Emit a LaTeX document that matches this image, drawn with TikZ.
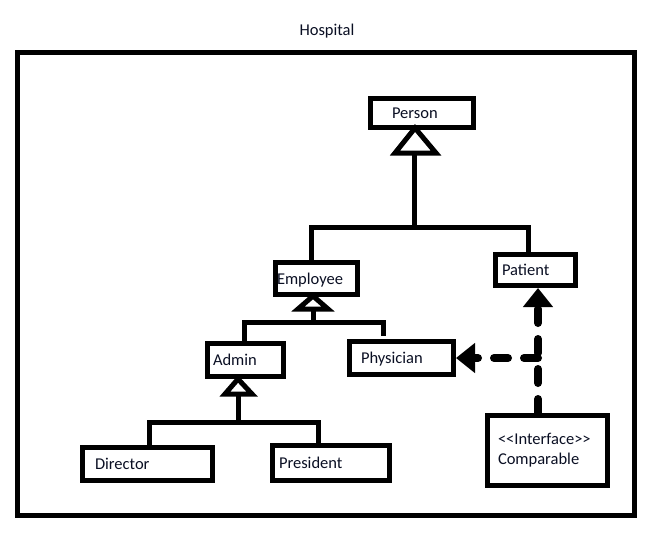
\documentclass[tikz,border=0pt]{standalone}
\usepackage{fontspec}
\setmainfont{Carlito}
\usetikzlibrary{arrows.meta,calc}
\definecolor{ink}{RGB}{10,15,35}
\begin{document}
\begin{tikzpicture}[x=1pt,y=-1pt,
  txt/.style={font=\fontsize{16.5}{20}\selectfont, text=ink},
  box/.style={txt, draw, line width=5pt, inner ysep=0pt, align=left},
  one/.style={text height=13pt, text depth=2pt},
  conn/.style={line width=5pt, line join=miter},
  gen/.style={line width=5pt, fill=white, line join=miter},
  dep/.style={line width=8pt, line cap=round, dash pattern=on 14pt off 16pt,
    -{Triangle[length=19pt,width=29pt]}}]
\useasboundingbox (0,0) rectangle (662,533);

% frame and title
\node[draw, line width=5pt, minimum width=617pt, minimum height=463pt, inner sep=0pt] (frame) at (326,284) {};
\node[txt] (title) at (327,31) {Hospital};

% classes
\node[box, one, inner xsep=21.5pt, text width=60pt, minimum height=29pt] (person) at (422,113) {Person};
\node[box, one, inner xsep=1.5pt, text width=79pt, minimum height=32pt] (emp) at (316.5,278.5) {Employee};
\node[box, one, inner xsep=6.5pt, text width=67pt, minimum height=31pt] (pat) at (535.5,270) {Patient};
\node[box, one, inner xsep=5.5pt, text width=65pt, minimum height=33pt] (admin) at (245.5,360) {Admin};
\node[box, one, inner xsep=11.5pt, text width=81pt, minimum height=33pt] (phys) at (401.5,358) {Physician};
\node[box, one, inner xsep=12.5pt, text width=105pt, minimum height=33pt] (dir) at (147.5,464) {Director};
\node[box, one, inner xsep=6.5pt, text width=104pt, minimum height=35pt] (pres) at (331,463) {President};
\node[box, inner xsep=10.5pt, text width=99pt, minimum height=70pt] (comp) at (547.5,450.5) {{<}{<}Interface{>}{>}\\Comparable};

% Person generalization
\coordinate (j1) at (414,227);
\draw[conn] (j1) -- ([xshift=-8pt,yshift=-21pt]person.south);
\draw[gen] ([xshift=-7pt,yshift=2pt]person.south) -- ++(-20,25) -- ++(41,0) -- cycle;
\draw[conn] ([xshift=-5.5pt]emp.north) |- (j1) -| ([xshift=-7.5pt]pat.north);

% Employee generalization
\coordinate (j2) at (313,322);
\draw[conn] (j2) -- ([xshift=-3.5pt,yshift=-11pt]emp.south);
\draw[gen] ([xshift=-3.5pt,yshift=1pt]emp.south) -- ++(-15,13) -- ++(30,0) -- cycle;
\draw[conn] ([xshift=-1.5pt]admin.north) |- (j2) -| ([xshift=-18.5pt,yshift=3pt]phys.north);

% Admin generalization
\coordinate (j3) at (238,422);
\draw[conn] (j3) -- ([xshift=-7.5pt,yshift=-14pt]admin.south);
\draw[gen] ([xshift=-7.5pt]admin.south) -- ++(-13,15) -- ++(27,0) -- cycle;
\draw[conn] ([xshift=1.5pt]dir.north) |- (j3) -| ([xshift=-13pt]pres.north);

% dependencies
\draw[dep] ([xshift=-9.5pt]comp.north) -- ([xshift=2.5pt]pat.south);
\draw[dep] ([xshift=-9.5pt]comp.north |- phys.east) -- (phys.east);
\end{tikzpicture}
\end{document}
